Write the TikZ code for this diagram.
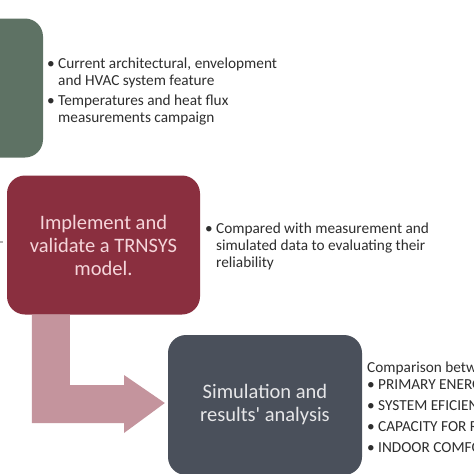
\documentclass[tikz,border=0pt]{standalone}
\usepackage{fontspec}
\setmainfont{Carlito}
\usetikzlibrary{calc}
\definecolor{gbox}{HTML}{5E7264}
\definecolor{rbox}{HTML}{8A2F3F}
\definecolor{dbox}{HTML}{4A505B}
\definecolor{parrow}{HTML}{C4949D}
\definecolor{btext}{HTML}{2E2E2E}
\definecolor{rtext}{HTML}{F5D5DA}
\definecolor{dtext}{HTML}{E6E6E8}
\newcommand\bul{\makebox[11pt][l]{\textbullet}}
\newcommand\ind{\hspace*{11pt}}
\tikzset{
  x=1pt,y=-1pt,
  stage/.style={rounded corners=18pt, minimum width=193pt, minimum height=139pt, inner sep=0pt, align=center, font=\fontsize{20.5}{23}\selectfont},
  note/.style={inner sep=0pt, align=left, anchor=north west, text=btext, font=\fontsize{15.3}{17}\selectfont}
}
\begin{document}
\begin{tikzpicture}
\clip (0,0) rectangle (474,474);
\fill[white] (0,0) rectangle (474,474);
% stages
\node[stage, fill=gbox, text=dtext] (collect) at (-53.5,88) {Collect data\\in base case};
\node[stage, fill=rbox, text=rtext] (trnsys) at (103.5,245) {Implement and\\validate a TRNSYS\\model.};
\node[stage, fill=dbox, text=dtext, minimum width=194pt, minimum height=140pt] (sim) at (265,405) {Simulation and\\results\textquotesingle{} analysis};
% notes
\node[note] (n1) at (47,58) {\bul Current architectural, envelopment\\\ind and HVAC system feature\\[3pt]\bul Temperatures and heat flux\\\ind measurements campaign};
\node[note] (n2) at (205,223) {\bul Compared with measurement and\\\ind simulated data to evaluating their\\\ind reliability};
\node[note, font=\fontsize{15.3}{21}\selectfont] (n3) at (367,362) {Comparison between\\[-4pt]\bul PRIMARY ENERGY\\\bul SYSTEM EFICIENCY\\\bul CAPACITY FOR RENEWABLES\\\bul INDOOR COMFORT};
% bent arrow
\coordinate (a0) at ($(trnsys.south west)+(25,0)$);
\coordinate (a1) at ($(trnsys.south west)+(63,0)$);
\coordinate (tip) at ($(sim.west)+(-3,-2)$);
\fill[parrow] (a0) -- (a0 |- 0,423) -- (124,423) -- (124,433) -- (tip) -- (124,375) -- (124,385) -- (a1 |- 0,385) -- (a1) -- cycle;
% fragment of incoming connector at left edge
\coordinate (frag) at (0,241);
\fill[gray!60] (frag) rectangle ++(3,1.5);
\end{tikzpicture}
\end{document}
